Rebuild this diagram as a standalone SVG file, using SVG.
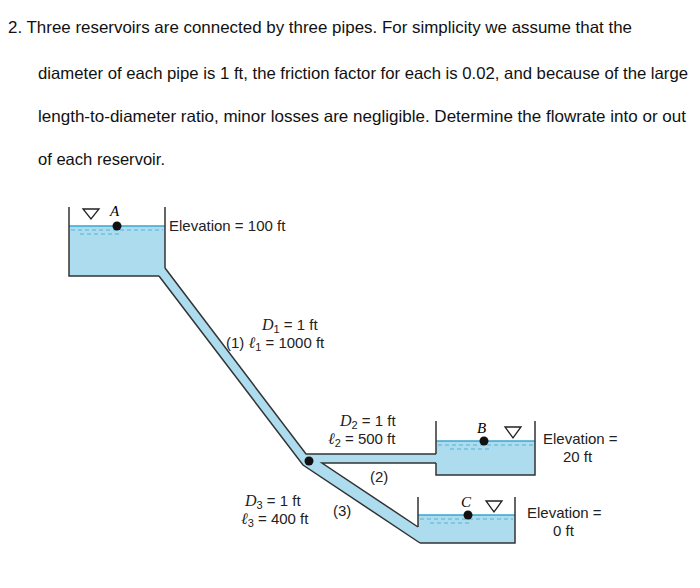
<svg xmlns="http://www.w3.org/2000/svg" width="700" height="588" viewBox="0 0 700 588">
<style>
.q{font-family:"Liberation Sans",Arial,sans-serif;font-size:16.5px;fill:#111}
.l{font-family:"Liberation Sans",Arial,sans-serif;font-size:15px;fill:#222}
.it{font-family:"Liberation Serif",serif;font-style:italic}
.w{fill:#acdcee;stroke:none}
.e{fill:none;stroke:#333;stroke-width:1.5}
.s{stroke:#3aa6d0;stroke-width:1.5}
.d{stroke:#3aa6d0;stroke-width:0.8;stroke-dasharray:4,3}
.tri{fill:#fff;stroke:#222;stroke-width:1.3}
</style>
<rect width="700" height="588" fill="#fff"/>
<g id="question">
<text class="q" x="8" y="33" textLength="624" lengthAdjust="spacingAndGlyphs">2.  Three reservoirs are connected by three pipes. For simplicity we assume that the</text>
<text class="q" x="38" y="79" textLength="650" lengthAdjust="spacingAndGlyphs">diameter of each pipe is 1 ft, the friction factor for each is 0.02, and because of the large</text>
<text class="q" x="38" y="122" textLength="648" lengthAdjust="spacingAndGlyphs">length-to-diameter ratio, minor losses are negligible. Determine the flowrate into or out</text>
<text class="q" x="38" y="165" textLength="127" lengthAdjust="spacingAndGlyphs">of each reservoir.</text>
</g>
<g id="water">
<path class="w" d="M69,226 H165 V268 L306,454 H436 V441 H535 V475 H436 V463 H322 L418,527 V515 H515 V543 H420 L303,465 L159,276 H69 Z"/>
</g>
<g id="reservoirA">
<line class="s" x1="69" y1="226" x2="165" y2="226"/>
<line class="d" x1="71" y1="230" x2="163" y2="230"/>
<line class="d" x1="80" y1="234" x2="120" y2="234"/>
<path class="e" d="M69,207 V276 H159"/>
<path class="e" d="M165,207 V268"/>
<path class="tri" d="M83,209 H99 L91,219 Z"/>
<circle cx="117" cy="226" r="4.5" fill="#111"/>
<text class="it" x="110" y="216" font-size="15">A</text>
</g>
<g id="reservoirB">
<line class="s" x1="436" y1="441" x2="535" y2="441"/>
<line class="d" x1="438" y1="445" x2="533" y2="445"/>
<line class="d" x1="450" y1="449" x2="490" y2="449"/>
<path class="e" d="M436,421 V454 M436,463 V475 H535 V421"/>
<path class="tri" d="M505,427 H521 L513,438 Z"/>
<circle cx="484" cy="441" r="4.5" fill="#111"/>
<text class="it" x="477" y="433" font-size="15">B</text>
</g>
<g id="reservoirC">
<line class="s" x1="418" y1="515" x2="515" y2="515"/>
<line class="d" x1="420" y1="519" x2="513" y2="519"/>
<line class="d" x1="430" y1="523" x2="470" y2="523"/>
<path class="e" d="M418,497 V527 M420,543 H515 V497"/>
<path class="tri" d="M486,501 H502 L494,512 Z"/>
<circle cx="468" cy="515" r="4.5" fill="#111"/>
<text class="it" x="461" y="507" font-size="15">C</text>
</g>
<g id="pipes">
<path class="e" d="M165,268 L306,454 H436"/>
<path class="e" d="M159,276 L303,465 L420,543"/>
<path class="e" d="M436,463 H322 L418,527"/>
<circle cx="309" cy="461" r="4.5" fill="#111"/>
</g>
<g id="labels">
<text class="l" x="169" y="231">Elevation = 100 ft</text>
<text class="l" x="262" y="330"><tspan class="it" font-size="16">D</tspan><tspan font-size="11" dy="3">1</tspan><tspan dy="-3"> = 1 ft</tspan></text>
<text class="l" x="226" y="348">(1) <tspan class="it" font-size="16">ℓ</tspan><tspan font-size="11" dy="3">1</tspan><tspan dy="-3"> = 1000 ft</tspan></text>
<text class="l" x="340" y="426"><tspan class="it" font-size="16">D</tspan><tspan font-size="11" dy="3">2</tspan><tspan dy="-3"> = 1 ft</tspan></text>
<text class="l" x="328" y="444"><tspan class="it" font-size="16">ℓ</tspan><tspan font-size="11" dy="3">2</tspan><tspan dy="-3"> = 500 ft</tspan></text>
<text class="l" x="370" y="482">(2)</text>
<text class="l" x="245" y="506"><tspan class="it" font-size="16">D</tspan><tspan font-size="11" dy="3">3</tspan><tspan dy="-3"> = 1 ft</tspan></text>
<text class="l" x="241" y="524"><tspan class="it" font-size="16">ℓ</tspan><tspan font-size="11" dy="3">3</tspan><tspan dy="-3"> = 400 ft</tspan></text>
<text class="l" x="333" y="516">(3)</text>
<text class="l" x="543" y="444">Elevation =</text>
<text class="l" x="563" y="462">20 ft</text>
<text class="l" x="527" y="518">Elevation =</text>
<text class="l" x="553" y="536">0 ft</text>
</g>
</svg>
